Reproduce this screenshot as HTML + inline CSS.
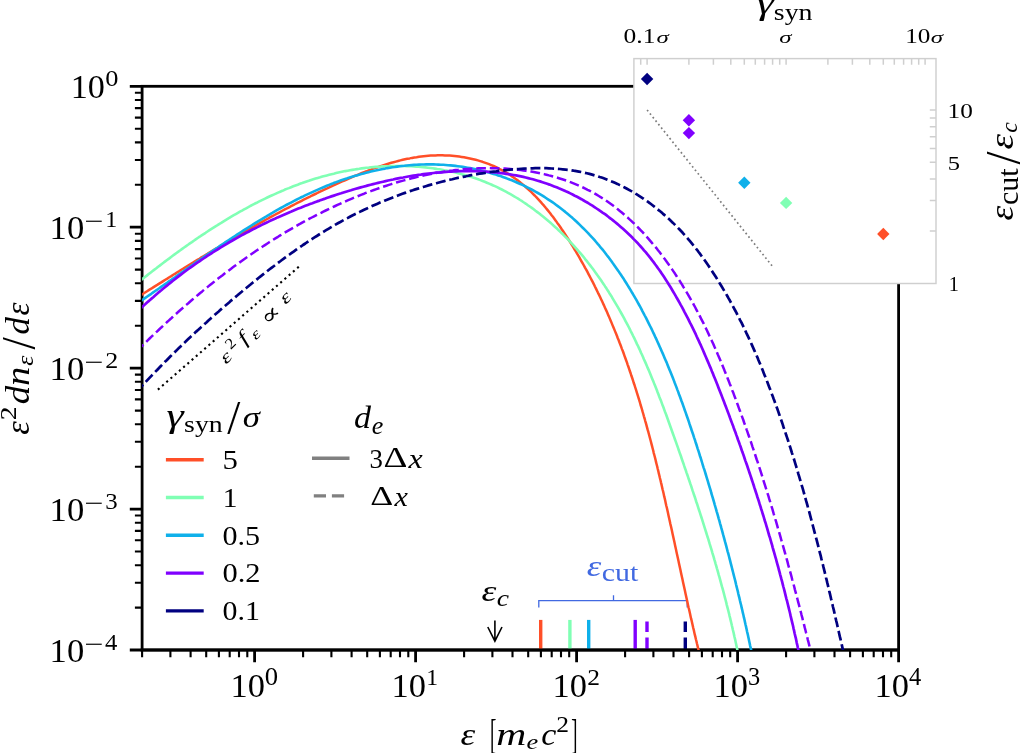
<!DOCTYPE html>
<html lang="en"><head><meta charset="utf-8"><title>Spectrum plot</title>
<style>html,body{margin:0;padding:0;background:#fff}svg{display:block}</style></head>
<body>
<svg width="1020" height="753" viewBox="0 0 1020 753" font-family="'Liberation Serif', 'DejaVu Serif', serif">
<rect width="1020" height="753" fill="#fff"/>
<defs><clipPath id="ax"><rect x="142.1" y="86.3" width="756.5" height="563.7"/></clipPath></defs>
<g stroke="#000" fill="none">
<rect x="142.1" y="86.3" width="756.5" height="563.7" stroke-width="2.8"/>
<path stroke-width="2.8" d="M254.6,650.0v12.3 M415.6,650.0v12.3 M576.6,650.0v12.3 M737.6,650.0v12.3 M898.6,650.0v12.3"/>
<path stroke-width="2.1" d="M142.1,650.0v7.2 M170.4,650.0v7.2 M190.6,650.0v7.2 M206.2,650.0v7.2 M218.9,650.0v7.2 M229.7,650.0v7.2 M239.0,650.0v7.2 M247.3,650.0v7.2 M303.1,650.0v7.2 M331.4,650.0v7.2 M351.6,650.0v7.2 M367.2,650.0v7.2 M379.9,650.0v7.2 M390.7,650.0v7.2 M400.0,650.0v7.2 M408.3,650.0v7.2 M464.1,650.0v7.2 M492.4,650.0v7.2 M512.5,650.0v7.2 M528.2,650.0v7.2 M540.9,650.0v7.2 M551.7,650.0v7.2 M561.0,650.0v7.2 M569.2,650.0v7.2 M625.1,650.0v7.2 M653.4,650.0v7.2 M673.5,650.0v7.2 M689.1,650.0v7.2 M701.9,650.0v7.2 M712.7,650.0v7.2 M722.0,650.0v7.2 M730.2,650.0v7.2 M786.1,650.0v7.2 M814.4,650.0v7.2 M834.5,650.0v7.2 M850.1,650.0v7.2 M862.9,650.0v7.2 M873.7,650.0v7.2 M883.0,650.0v7.2 M891.2,650.0v7.2"/>
<path stroke-width="2.8" d="M142.1,650.0h-12.3 M142.1,509.1h-12.3 M142.1,368.2h-12.3 M142.1,227.2h-12.3 M142.1,86.3h-12.3"/>
<path stroke-width="2.1" d="M142.1,607.6h-7.2 M142.1,582.8h-7.2 M142.1,565.2h-7.2 M142.1,551.5h-7.2 M142.1,540.3h-7.2 M142.1,530.9h-7.2 M142.1,522.7h-7.2 M142.1,515.5h-7.2 M142.1,466.7h-7.2 M142.1,441.8h-7.2 M142.1,424.2h-7.2 M142.1,410.6h-7.2 M142.1,399.4h-7.2 M142.1,390.0h-7.2 M142.1,381.8h-7.2 M142.1,374.6h-7.2 M142.1,325.7h-7.2 M142.1,300.9h-7.2 M142.1,283.3h-7.2 M142.1,269.6h-7.2 M142.1,258.5h-7.2 M142.1,249.1h-7.2 M142.1,240.9h-7.2 M142.1,233.7h-7.2 M142.1,184.8h-7.2 M142.1,160.0h-7.2 M142.1,142.4h-7.2 M142.1,128.7h-7.2 M142.1,117.6h-7.2 M142.1,108.1h-7.2 M142.1,100.0h-7.2 M142.1,92.7h-7.2"/>
</g>
<rect x="633.9" y="58.6" width="302.1" height="224.9" fill="#fff" stroke="none"/>
<g stroke="#cfcfcf" fill="none">
<rect x="633.9" y="58.6" width="302.1" height="224.9" stroke-width="1.45"/>
<path stroke-width="1.5" d="M640.7,58.6v6.2 M647.1,58.6v6.2 M688.9,58.6v6.2 M713.4,58.6v6.2 M730.8,58.6v6.2 M744.3,58.6v6.2 M755.3,58.6v6.2 M764.6,58.6v6.2 M772.6,58.6v6.2 M779.7,58.6v6.2 M786.1,58.6v6.2 M827.9,58.6v6.2 M852.4,58.6v6.2 M869.8,58.6v6.2 M883.3,58.6v6.2 M894.3,58.6v6.2 M903.6,58.6v6.2 M911.6,58.6v6.2 M918.7,58.6v6.2 M925.1,58.6v6.2"/>
<path stroke-width="1.5" d="M936.0,231.1h-6.2 M936.0,200.6h-6.2 M936.0,179.0h-6.2 M936.0,162.2h-6.2 M936.0,148.4h-6.2 M936.0,136.8h-6.2 M936.0,126.8h-6.2 M936.0,117.9h-6.2 M936.0,110.0h-6.2"/>
</g>
<path d="M540.7,650 V619.9" stroke="#ff4f28" stroke-width="3.4" fill="none"/>
<path d="M569.9,650 V619.9" stroke="#80ffb4" stroke-width="3.4" fill="none"/>
<path d="M588.7,650 V619.9" stroke="#0fb0ea" stroke-width="3.4" fill="none"/>
<path d="M635.2,650 V619.9" stroke="#8000ff" stroke-width="3.4" fill="none"/>
<path d="M647.0,650 V621.6" stroke="#8000ff" stroke-width="3.4" stroke-dasharray="12.6,5.4" fill="none"/>
<path d="M685.3,650 V621.6" stroke="#000080" stroke-width="3.4" stroke-dasharray="12.6,5.4" fill="none"/>
<path d="M140.7,650.0 H900.0" stroke="#000" stroke-width="2.8"/>
<path d="M538.8,607.6 V600.7 H687.2 V607.6 M613.5,600.7 V595.2" stroke="#4169e1" stroke-width="1.3" fill="none"/>
<g clip-path="url(#ax)" fill="none" stroke-linejoin="round">
<path d="M135.0,298.8 L137.0,297.6 L139.0,296.3 L141.1,295.0 L143.1,293.8 L145.1,292.5 L147.1,291.2 L149.1,289.9 L151.2,288.7 L153.2,287.4 L155.2,286.1 L157.2,284.9 L159.2,283.6 L161.2,282.4 L163.2,281.1 L165.3,279.8 L167.3,278.6 L169.3,277.3 L171.3,276.1 L173.3,274.8 L175.3,273.6 L177.3,272.3 L179.3,271.1 L181.3,269.8 L183.3,268.6 L185.3,267.3 L187.3,266.1 L189.4,264.8 L191.4,263.6 L193.4,262.4 L195.4,261.1 L197.4,259.9 L199.4,258.7 L201.4,257.4 L203.4,256.2 L205.4,255.0 L207.4,253.8 L209.4,252.5 L211.5,251.3 L213.5,250.1 L215.5,248.9 L217.5,247.7 L219.5,246.5 L221.5,245.3 L223.5,244.1 L225.6,242.9 L227.6,241.7 L229.6,240.5 L231.6,239.3 L233.6,238.1 L235.7,236.9 L237.7,235.7 L239.7,234.5 L241.7,233.4 L243.8,232.2 L245.8,231.0 L247.8,229.9 L249.9,228.7 L251.9,227.5 L254.0,226.4 L256.0,225.2 L258.0,224.1 L260.1,222.9 L262.1,221.8 L264.2,220.6 L266.2,219.5 L268.3,218.4 L270.4,217.2 L272.4,216.1 L274.5,215.0 L276.5,213.9 L278.6,212.8 L280.7,211.7 L282.8,210.5 L284.8,209.4 L286.9,208.4 L289.0,207.3 L291.1,206.2 L293.2,205.1 L295.3,204.0 L297.4,202.9 L299.5,201.9 L301.6,200.8 L303.7,199.7 L305.8,198.7 L307.9,197.6 L310.0,196.6 L312.1,195.5 L314.2,194.5 L316.4,193.5 L318.5,192.4 L320.6,191.4 L322.8,190.4 L324.9,189.4 L327.1,188.4 L329.2,187.3 L331.4,186.3 L333.5,185.4 L335.7,184.4 L337.9,183.4 L340.0,182.4 L342.2,181.4 L344.4,180.5 L346.6,179.5 L348.8,178.5 L351.0,177.6 L353.2,176.7 L355.4,175.7 L357.6,174.8 L359.8,173.9 L362.0,173.0 L364.2,172.1 L366.5,171.3 L368.7,170.4 L370.9,169.6 L373.2,168.7 L375.4,167.9 L377.7,167.2 L379.9,166.4 L382.2,165.6 L384.5,164.9 L386.7,164.2 L389.0,163.5 L391.3,162.8 L393.6,162.2 L395.8,161.6 L398.1,161.0 L400.4,160.4 L402.7,159.8 L405.0,159.3 L407.3,158.8 L409.7,158.4 L412.0,157.9 L414.3,157.5 L416.6,157.2 L419.0,156.8 L421.3,156.5 L423.6,156.2 L426.0,156.0 L428.3,155.8 L430.7,155.6 L433.1,155.5 L435.4,155.4 L437.8,155.3 L440.2,155.3 L442.5,155.3 L444.9,155.4 L447.3,155.5 L449.7,155.6 L452.1,155.8 L454.5,156.0 L456.9,156.3 L459.2,156.6 L461.6,156.9 L464.0,157.3 L466.3,157.7 L468.7,158.2 L471.0,158.7 L473.3,159.2 L475.7,159.8 L477.9,160.4 L480.2,161.1 L482.5,161.8 L484.7,162.6 L486.9,163.4 L489.1,164.2 L491.3,165.1 L493.5,166.0 L495.6,167.0 L497.7,168.0 L499.7,169.0 L501.8,170.1 L503.8,171.3 L505.8,172.4 L507.8,173.6 L509.7,174.8 L511.7,176.1 L513.6,177.4 L515.4,178.8 L517.3,180.1 L519.1,181.5 L520.9,183.0 L522.7,184.4 L524.5,185.9 L526.2,187.5 L528.0,189.0 L529.7,190.6 L531.4,192.2 L533.0,193.8 L534.7,195.5 L536.3,197.2 L537.9,198.9 L539.5,200.6 L541.1,202.4 L542.6,204.2 L544.2,205.9 L545.7,207.8 L547.2,209.6 L548.7,211.4 L550.2,213.3 L551.6,215.2 L553.1,217.1 L554.5,219.0 L555.9,220.9 L557.3,222.9 L558.7,224.8 L560.1,226.8 L561.4,228.8 L562.8,230.8 L564.1,232.8 L565.4,234.8 L566.7,236.8 L568.0,238.8 L569.3,240.8 L570.6,242.9 L571.8,244.9 L573.1,246.9 L574.3,249.0 L575.6,251.0 L576.8,253.1 L578.0,255.1 L579.2,257.2 L580.4,259.3 L581.5,261.3 L582.7,263.4 L583.9,265.5 L585.0,267.6 L586.2,269.6 L587.3,271.7 L588.4,273.8 L589.5,275.9 L590.6,278.0 L591.7,280.1 L592.8,282.2 L593.9,284.3 L594.9,286.5 L596.0,288.6 L597.0,290.7 L598.0,292.8 L599.1,294.9 L600.1,297.1 L601.1,299.2 L602.1,301.3 L603.1,303.5 L604.1,305.6 L605.0,307.8 L606.0,309.9 L607.0,312.1 L607.9,314.2 L608.9,316.4 L609.8,318.6 L610.7,320.7 L611.6,322.9 L612.5,325.1 L613.4,327.2 L614.3,329.4 L615.2,331.6 L616.1,333.8 L617.0,336.0 L617.8,338.2 L618.7,340.3 L619.5,342.5 L620.4,344.7 L621.2,346.9 L622.0,349.1 L622.9,351.3 L623.7,353.5 L624.5,355.8 L625.3,358.0 L626.1,360.2 L626.9,362.4 L627.6,364.6 L628.4,366.8 L629.2,369.1 L629.9,371.3 L630.7,373.5 L631.4,375.8 L632.2,378.0 L632.9,380.2 L633.6,382.5 L634.4,384.7 L635.1,387.0 L635.8,389.2 L636.5,391.4 L637.2,393.7 L637.9,395.9 L638.6,398.2 L639.3,400.4 L640.0,402.7 L640.6,405.0 L641.3,407.2 L642.0,409.5 L642.6,411.7 L643.3,414.0 L643.9,416.3 L644.6,418.5 L645.2,420.8 L645.9,423.1 L646.5,425.4 L647.1,427.6 L647.7,429.9 L648.4,432.2 L649.0,434.5 L649.6,436.8 L650.2,439.0 L650.8,441.3 L651.4,443.6 L652.0,445.9 L652.6,448.2 L653.2,450.5 L653.7,452.8 L654.3,455.0 L654.9,457.3 L655.5,459.6 L656.0,461.9 L656.6,464.2 L657.2,466.5 L657.7,468.8 L658.3,471.1 L658.8,473.4 L659.4,475.7 L659.9,478.0 L660.5,480.3 L661.0,482.6 L661.6,484.9 L662.1,487.2 L662.6,489.5 L663.2,491.8 L663.7,494.1 L664.2,496.4 L664.8,498.7 L665.3,501.1 L665.8,503.4 L666.3,505.7 L666.9,508.0 L667.4,510.3 L667.9,512.6 L668.4,514.9 L668.9,517.2 L669.4,519.5 L669.9,521.8 L670.4,524.1 L671.0,526.5 L671.5,528.8 L672.0,531.1 L672.5,533.4 L673.0,535.7 L673.5,538.0 L674.0,540.3 L674.5,542.6 L675.0,544.9 L675.5,547.3 L676.0,549.6 L676.5,551.9 L677.0,554.2 L677.5,556.5 L678.0,558.8 L678.5,561.1 L679.0,563.4 L679.5,565.7 L680.0,568.0 L680.5,570.3 L681.0,572.7 L681.5,575.0 L682.0,577.3 L682.5,579.6 L683.0,581.9 L683.5,584.2 L684.0,586.5 L684.5,588.8 L685.0,591.1 L685.5,593.4 L686.0,595.7 L686.5,598.0 L687.0,600.3 L687.5,602.6 L688.0,604.9 L688.5,607.2 L689.1,609.5 L689.6,611.8 L690.1,614.1 L690.6,616.4 L691.1,618.7 L691.7,620.9 L692.2,623.2 L692.7,625.5 L693.2,627.8 L693.8,630.1 L694.3,632.4 L694.8,634.7 L695.4,636.9 L695.9,639.2 L696.5,641.5 L697.0,643.8 L697.6,646.1 L698.1,648.3 L698.7,650.6 L699.2,652.9 L699.8,655.1 L700.3,657.4" stroke="#ff4f28" stroke-width="2.5"/>
<path d="M136.1,284.1 L137.8,282.7 L139.6,281.3 L141.4,279.8 L143.2,278.4 L145.0,277.0 L146.8,275.6 L148.7,274.1 L150.5,272.7 L152.3,271.3 L154.1,269.9 L156.0,268.5 L157.8,267.0 L159.7,265.6 L161.5,264.2 L163.4,262.8 L165.2,261.4 L167.1,260.0 L169.0,258.6 L170.8,257.2 L172.7,255.8 L174.6,254.4 L176.5,253.0 L178.4,251.6 L180.3,250.3 L182.2,248.9 L184.1,247.5 L186.1,246.1 L188.0,244.8 L189.9,243.4 L191.9,242.1 L193.8,240.7 L195.7,239.4 L197.7,238.0 L199.7,236.7 L201.6,235.4 L203.6,234.1 L205.6,232.8 L207.5,231.5 L209.5,230.2 L211.5,228.9 L213.5,227.6 L215.5,226.3 L217.5,225.1 L219.5,223.8 L221.6,222.6 L223.6,221.3 L225.6,220.1 L227.6,218.9 L229.7,217.6 L231.7,216.4 L233.8,215.2 L235.8,214.1 L237.9,212.9 L239.9,211.7 L242.0,210.6 L244.1,209.4 L246.2,208.3 L248.3,207.2 L250.3,206.0 L252.4,204.9 L254.5,203.8 L256.7,202.8 L258.8,201.7 L260.9,200.6 L263.0,199.6 L265.1,198.6 L267.3,197.5 L269.4,196.5 L271.6,195.5 L273.7,194.6 L275.9,193.6 L278.0,192.6 L280.2,191.7 L282.4,190.8 L284.5,189.8 L286.7,188.9 L288.9,188.1 L291.1,187.2 L293.3,186.3 L295.5,185.5 L297.7,184.7 L299.9,183.8 L302.1,183.1 L304.4,182.3 L306.6,181.5 L308.8,180.8 L311.1,180.0 L313.3,179.3 L315.6,178.6 L317.8,177.9 L320.1,177.3 L322.4,176.6 L324.6,176.0 L326.9,175.4 L329.2,174.8 L331.5,174.2 L333.8,173.7 L336.1,173.1 L338.4,172.6 L340.7,172.1 L343.0,171.6 L345.3,171.1 L347.7,170.7 L350.0,170.3 L352.3,169.9 L354.7,169.5 L357.0,169.1 L359.3,168.8 L361.7,168.4 L364.1,168.1 L366.4,167.8 L368.8,167.6 L371.1,167.3 L373.5,167.1 L375.9,166.9 L378.2,166.7 L380.6,166.6 L383.0,166.4 L385.3,166.3 L387.7,166.2 L390.1,166.1 L392.5,166.0 L394.8,166.0 L397.2,166.0 L399.6,166.0 L402.0,166.0 L404.3,166.0 L406.7,166.1 L409.1,166.2 L411.4,166.3 L413.8,166.4 L416.2,166.6 L418.5,166.8 L420.9,167.0 L423.2,167.2 L425.6,167.4 L427.9,167.7 L430.3,168.0 L432.6,168.3 L434.9,168.6 L437.3,169.0 L439.6,169.3 L441.9,169.7 L444.2,170.2 L446.5,170.6 L448.9,171.1 L451.2,171.6 L453.4,172.1 L455.7,172.6 L458.0,173.2 L460.3,173.8 L462.5,174.4 L464.8,175.0 L467.1,175.7 L469.3,176.4 L471.5,177.1 L473.7,177.8 L476.0,178.5 L478.2,179.3 L480.4,180.1 L482.6,181.0 L484.7,181.8 L486.9,182.7 L489.1,183.6 L491.2,184.5 L493.3,185.5 L495.5,186.4 L497.6,187.4 L499.7,188.5 L501.8,189.5 L503.9,190.6 L505.9,191.7 L508.0,192.8 L510.0,193.9 L512.1,195.1 L514.1,196.3 L516.1,197.5 L518.1,198.7 L520.1,200.0 L522.1,201.2 L524.0,202.5 L526.0,203.8 L527.9,205.2 L529.8,206.5 L531.8,207.9 L533.7,209.3 L535.5,210.7 L537.4,212.1 L539.3,213.5 L541.1,215.0 L543.0,216.5 L544.8,218.0 L546.6,219.5 L548.4,221.0 L550.2,222.5 L552.0,224.1 L553.7,225.7 L555.4,227.2 L557.2,228.8 L558.9,230.5 L560.6,232.1 L562.3,233.7 L563.9,235.4 L565.6,237.1 L567.2,238.7 L568.9,240.4 L570.5,242.2 L572.1,243.9 L573.7,245.6 L575.2,247.3 L576.8,249.1 L578.3,250.9 L579.9,252.6 L581.4,254.4 L582.9,256.2 L584.4,258.0 L585.8,259.9 L587.3,261.7 L588.7,263.5 L590.2,265.4 L591.6,267.2 L593.0,269.1 L594.4,271.0 L595.8,272.9 L597.1,274.8 L598.5,276.7 L599.8,278.6 L601.2,280.5 L602.5,282.5 L603.8,284.4 L605.1,286.4 L606.4,288.3 L607.6,290.3 L608.9,292.3 L610.1,294.3 L611.4,296.2 L612.6,298.3 L613.8,300.3 L615.0,302.3 L616.2,304.3 L617.4,306.3 L618.6,308.4 L619.7,310.4 L620.9,312.5 L622.0,314.5 L623.2,316.6 L624.3,318.7 L625.4,320.8 L626.5,322.9 L627.6,324.9 L628.7,327.0 L629.8,329.2 L630.8,331.3 L631.9,333.4 L632.9,335.5 L634.0,337.6 L635.0,339.8 L636.0,341.9 L637.0,344.1 L638.1,346.2 L639.1,348.4 L640.1,350.5 L641.0,352.7 L642.0,354.8 L643.0,357.0 L643.9,359.2 L644.9,361.4 L645.9,363.6 L646.8,365.7 L647.7,367.9 L648.7,370.1 L649.6,372.3 L650.5,374.5 L651.4,376.7 L652.3,378.9 L653.2,381.1 L654.1,383.4 L655.0,385.6 L655.9,387.8 L656.8,390.0 L657.6,392.2 L658.5,394.5 L659.3,396.7 L660.2,398.9 L661.1,401.1 L661.9,403.4 L662.7,405.6 L663.6,407.8 L664.4,410.1 L665.2,412.3 L666.1,414.5 L666.9,416.8 L667.7,419.0 L668.5,421.3 L669.3,423.5 L670.1,425.7 L670.9,428.0 L671.7,430.2 L672.5,432.5 L673.3,434.7 L674.1,436.9 L674.9,439.2 L675.7,441.4 L676.5,443.6 L677.3,445.9 L678.1,448.1 L678.8,450.3 L679.6,452.6 L680.4,454.8 L681.2,457.0 L681.9,459.3 L682.7,461.5 L683.5,463.7 L684.2,465.9 L685.0,468.2 L685.8,470.4 L686.5,472.6 L687.3,474.8 L688.1,477.1 L688.8,479.3 L689.6,481.5 L690.3,483.7 L691.1,485.9 L691.8,488.2 L692.5,490.4 L693.3,492.6 L694.0,494.8 L694.8,497.0 L695.5,499.2 L696.2,501.5 L697.0,503.7 L697.7,505.9 L698.4,508.1 L699.1,510.3 L699.9,512.6 L700.6,514.8 L701.3,517.0 L702.0,519.2 L702.7,521.4 L703.4,523.7 L704.1,525.9 L704.8,528.1 L705.5,530.3 L706.2,532.5 L706.9,534.8 L707.6,537.0 L708.3,539.2 L709.0,541.5 L709.6,543.7 L710.3,545.9 L711.0,548.2 L711.7,550.4 L712.3,552.6 L713.0,554.9 L713.7,557.1 L714.3,559.3 L715.0,561.6 L715.6,563.8 L716.3,566.1 L716.9,568.3 L717.6,570.6 L718.2,572.8 L718.8,575.1 L719.5,577.3 L720.1,579.6 L720.7,581.9 L721.3,584.1 L721.9,586.4 L722.6,588.7 L723.2,590.9 L723.8,593.2 L724.4,595.5 L725.0,597.8 L725.6,600.0 L726.2,602.3 L726.7,604.6 L727.3,606.9 L727.9,609.2 L728.5,611.5 L729.1,613.8 L729.6,616.1 L730.2,618.4 L730.7,620.7 L731.3,623.0 L731.8,625.3 L732.4,627.7 L732.9,630.0 L733.5,632.3 L734.0,634.6 L734.5,637.0 L735.1,639.3 L735.6,641.7 L736.1,644.0 L736.6,646.4 L737.1,648.7 L737.6,651.1 L738.1,653.4 L738.6,655.8 L739.1,658.2" stroke="#80ffb4" stroke-width="2.6"/>
<path d="M135.5,304.6 L137.4,303.3 L139.4,301.9 L141.4,300.6 L143.4,299.2 L145.3,297.9 L147.3,296.5 L149.3,295.1 L151.3,293.8 L153.2,292.4 L155.2,291.0 L157.2,289.7 L159.2,288.3 L161.1,286.9 L163.1,285.5 L165.1,284.1 L167.1,282.8 L169.0,281.4 L171.0,280.0 L173.0,278.6 L175.0,277.2 L176.9,275.8 L178.9,274.4 L180.9,273.0 L182.9,271.7 L184.8,270.3 L186.8,268.9 L188.8,267.5 L190.8,266.1 L192.8,264.7 L194.8,263.3 L196.8,261.9 L198.7,260.6 L200.7,259.2 L202.7,257.8 L204.7,256.4 L206.7,255.0 L208.7,253.6 L210.7,252.3 L212.7,250.9 L214.7,249.5 L216.8,248.2 L218.8,246.8 L220.8,245.4 L222.8,244.1 L224.8,242.7 L226.8,241.4 L228.9,240.0 L230.9,238.7 L232.9,237.3 L235.0,236.0 L237.0,234.7 L239.1,233.3 L241.1,232.0 L243.2,230.7 L245.2,229.4 L247.3,228.1 L249.3,226.8 L251.4,225.5 L253.5,224.2 L255.5,222.9 L257.6,221.6 L259.7,220.3 L261.8,219.1 L263.9,217.8 L266.0,216.6 L268.1,215.3 L270.2,214.1 L272.3,212.9 L274.4,211.6 L276.5,210.4 L278.7,209.2 L280.8,208.0 L282.9,206.9 L285.1,205.7 L287.2,204.5 L289.4,203.4 L291.5,202.3 L293.7,201.1 L295.9,200.0 L298.0,198.9 L300.2,197.8 L302.4,196.8 L304.6,195.7 L306.8,194.6 L309.0,193.6 L311.2,192.6 L313.4,191.6 L315.6,190.6 L317.9,189.6 L320.1,188.6 L322.3,187.7 L324.6,186.7 L326.8,185.8 L329.1,184.9 L331.3,184.0 L333.6,183.1 L335.9,182.3 L338.2,181.4 L340.5,180.6 L342.8,179.8 L345.1,179.0 L347.4,178.3 L349.7,177.5 L352.0,176.8 L354.4,176.1 L356.7,175.4 L359.0,174.7 L361.4,174.0 L363.7,173.4 L366.1,172.8 L368.5,172.2 L370.8,171.6 L373.2,171.0 L375.6,170.5 L378.0,170.0 L380.4,169.5 L382.8,169.0 L385.1,168.6 L387.5,168.1 L389.9,167.7 L392.4,167.3 L394.8,167.0 L397.2,166.6 L399.6,166.3 L402.0,166.0 L404.4,165.8 L406.8,165.5 L409.3,165.3 L411.7,165.1 L414.1,164.9 L416.5,164.8 L419.0,164.6 L421.4,164.5 L423.8,164.5 L426.3,164.4 L428.7,164.4 L431.1,164.4 L433.6,164.4 L436.0,164.5 L438.4,164.6 L440.9,164.7 L443.3,164.8 L445.7,165.0 L448.1,165.2 L450.6,165.4 L453.0,165.6 L455.4,165.9 L457.8,166.2 L460.3,166.5 L462.7,166.9 L465.1,167.3 L467.5,167.7 L469.9,168.1 L472.3,168.6 L474.7,169.1 L477.0,169.6 L479.4,170.1 L481.8,170.7 L484.2,171.3 L486.5,171.9 L488.9,172.5 L491.2,173.2 L493.5,173.9 L495.9,174.6 L498.2,175.4 L500.5,176.1 L502.8,176.9 L505.1,177.7 L507.3,178.6 L509.6,179.5 L511.9,180.3 L514.1,181.3 L516.3,182.2 L518.5,183.2 L520.8,184.2 L522.9,185.2 L525.1,186.2 L527.3,187.3 L529.4,188.4 L531.6,189.5 L533.7,190.6 L535.8,191.8 L537.9,193.0 L539.9,194.2 L542.0,195.4 L544.0,196.7 L546.0,198.0 L548.0,199.3 L550.0,200.6 L552.0,201.9 L554.0,203.3 L555.9,204.7 L557.8,206.1 L559.7,207.5 L561.6,209.0 L563.5,210.5 L565.3,211.9 L567.2,213.5 L569.0,215.0 L570.8,216.6 L572.6,218.1 L574.4,219.7 L576.1,221.3 L577.9,223.0 L579.6,224.6 L581.3,226.3 L583.0,228.0 L584.7,229.7 L586.4,231.4 L588.1,233.1 L589.7,234.9 L591.3,236.6 L593.0,238.4 L594.6,240.2 L596.1,242.0 L597.7,243.9 L599.3,245.7 L600.8,247.6 L602.4,249.4 L603.9,251.3 L605.4,253.2 L606.9,255.2 L608.4,257.1 L609.8,259.0 L611.3,261.0 L612.7,263.0 L614.1,264.9 L615.5,266.9 L616.9,268.9 L618.3,270.9 L619.7,273.0 L621.1,275.0 L622.4,277.1 L623.8,279.1 L625.1,281.2 L626.4,283.3 L627.7,285.4 L629.0,287.5 L630.3,289.6 L631.5,291.7 L632.8,293.8 L634.0,295.9 L635.3,298.1 L636.5,300.2 L637.7,302.4 L638.9,304.5 L640.1,306.7 L641.3,308.9 L642.4,311.1 L643.6,313.3 L644.7,315.5 L645.9,317.7 L647.0,319.9 L648.1,322.1 L649.2,324.3 L650.3,326.5 L651.4,328.7 L652.5,331.0 L653.5,333.2 L654.6,335.4 L655.6,337.7 L656.7,339.9 L657.7,342.2 L658.7,344.4 L659.7,346.7 L660.7,348.9 L661.7,351.2 L662.7,353.4 L663.7,355.7 L664.6,357.9 L665.6,360.2 L666.6,362.4 L667.5,364.7 L668.4,367.0 L669.3,369.2 L670.3,371.5 L671.2,373.8 L672.1,376.0 L673.0,378.3 L673.9,380.6 L674.7,382.8 L675.6,385.1 L676.5,387.4 L677.3,389.6 L678.2,391.9 L679.0,394.2 L679.9,396.5 L680.7,398.7 L681.5,401.0 L682.4,403.3 L683.2,405.6 L684.0,407.9 L684.8,410.2 L685.6,412.4 L686.4,414.7 L687.2,417.0 L688.0,419.3 L688.8,421.6 L689.5,423.9 L690.3,426.2 L691.1,428.5 L691.8,430.8 L692.6,433.0 L693.4,435.3 L694.1,437.6 L694.9,439.9 L695.6,442.2 L696.4,444.5 L697.1,446.8 L697.8,449.1 L698.6,451.4 L699.3,453.7 L700.0,456.0 L700.8,458.3 L701.5,460.6 L702.2,463.0 L702.9,465.3 L703.6,467.6 L704.4,469.9 L705.1,472.2 L705.8,474.5 L706.5,476.8 L707.2,479.1 L707.9,481.4 L708.6,483.8 L709.3,486.1 L710.0,488.4 L710.7,490.7 L711.3,493.0 L712.0,495.3 L712.7,497.7 L713.4,500.0 L714.1,502.3 L714.7,504.6 L715.4,507.0 L716.1,509.3 L716.7,511.6 L717.4,513.9 L718.1,516.3 L718.7,518.6 L719.4,520.9 L720.0,523.3 L720.7,525.6 L721.3,527.9 L722.0,530.3 L722.6,532.6 L723.2,534.9 L723.9,537.3 L724.5,539.6 L725.1,541.9 L725.8,544.3 L726.4,546.6 L727.0,549.0 L727.6,551.3 L728.3,553.7 L728.9,556.0 L729.5,558.4 L730.1,560.7 L730.7,563.1 L731.3,565.4 L731.9,567.8 L732.5,570.1 L733.1,572.5 L733.7,574.8 L734.3,577.2 L734.9,579.5 L735.5,581.9 L736.0,584.2 L736.6,586.6 L737.2,589.0 L737.8,591.3 L738.3,593.7 L738.9,596.1 L739.5,598.4 L740.0,600.8 L740.6,603.2 L741.2,605.5 L741.7,607.9 L742.3,610.3 L742.8,612.7 L743.4,615.0 L743.9,617.4 L744.5,619.8 L745.0,622.2 L745.5,624.5 L746.1,626.9 L746.6,629.3 L747.1,631.7 L747.7,634.1 L748.2,636.5 L748.7,638.8 L749.2,641.2 L749.7,643.6 L750.2,646.0 L750.8,648.4 L751.3,650.8 L751.8,653.2 L752.3,655.6 L752.8,658.0" stroke="#0fb0ea" stroke-width="2.6"/>
<path d="M135.9,313.0 L137.8,311.2 L139.7,309.4 L141.6,307.6 L143.5,305.8 L145.4,304.1 L147.3,302.3 L149.3,300.6 L151.2,298.9 L153.2,297.2 L155.1,295.5 L157.1,293.8 L159.0,292.1 L161.0,290.5 L163.0,288.8 L164.9,287.2 L166.9,285.6 L168.9,284.0 L170.9,282.4 L172.9,280.8 L174.9,279.2 L176.9,277.6 L178.9,276.1 L180.9,274.6 L183.0,273.0 L185.0,271.5 L187.0,270.0 L189.1,268.5 L191.1,267.1 L193.2,265.6 L195.2,264.2 L197.3,262.7 L199.4,261.3 L201.4,259.9 L203.5,258.5 L205.6,257.1 L207.7,255.7 L209.8,254.3 L211.9,253.0 L214.0,251.6 L216.1,250.3 L218.3,249.0 L220.4,247.7 L222.5,246.4 L224.6,245.1 L226.8,243.8 L228.9,242.5 L231.1,241.3 L233.3,240.0 L235.4,238.8 L237.6,237.6 L239.8,236.4 L241.9,235.2 L244.1,234.0 L246.3,232.8 L248.5,231.7 L250.7,230.5 L252.9,229.3 L255.2,228.2 L257.4,227.1 L259.6,226.0 L261.8,224.9 L264.1,223.8 L266.3,222.7 L268.6,221.6 L270.8,220.6 L273.1,219.5 L275.4,218.5 L277.6,217.4 L279.9,216.4 L282.2,215.4 L284.5,214.4 L286.8,213.4 L289.1,212.4 L291.4,211.5 L293.7,210.5 L296.0,209.5 L298.3,208.6 L300.7,207.7 L303.0,206.7 L305.3,205.8 L307.7,204.9 L310.0,204.0 L312.4,203.2 L314.8,202.3 L317.1,201.4 L319.5,200.6 L321.9,199.7 L324.3,198.9 L326.6,198.0 L329.0,197.2 L331.4,196.4 L333.9,195.6 L336.3,194.8 L338.7,194.0 L341.1,193.3 L343.5,192.5 L346.0,191.7 L348.4,191.0 L350.9,190.3 L353.3,189.5 L355.8,188.8 L358.2,188.1 L360.7,187.4 L363.2,186.7 L365.6,186.1 L368.1,185.4 L370.6,184.7 L373.1,184.1 L375.6,183.5 L378.1,182.9 L380.6,182.3 L383.1,181.7 L385.6,181.1 L388.1,180.5 L390.6,180.0 L393.1,179.5 L395.6,178.9 L398.1,178.4 L400.7,177.9 L403.2,177.5 L405.7,177.0 L408.2,176.5 L410.7,176.1 L413.3,175.7 L415.8,175.3 L418.3,174.9 L420.8,174.6 L423.4,174.2 L425.9,173.9 L428.4,173.6 L431.0,173.3 L433.5,173.0 L436.0,172.7 L438.6,172.5 L441.1,172.3 L443.6,172.1 L446.1,171.9 L448.7,171.7 L451.2,171.6 L453.7,171.4 L456.2,171.3 L458.8,171.2 L461.3,171.2 L463.8,171.1 L466.3,171.1 L468.8,171.1 L471.3,171.1 L473.9,171.2 L476.4,171.2 L478.9,171.3 L481.4,171.4 L483.9,171.5 L486.4,171.7 L488.9,171.9 L491.3,172.1 L493.8,172.3 L496.3,172.5 L498.8,172.8 L501.3,173.1 L503.7,173.4 L506.2,173.8 L508.6,174.2 L511.1,174.6 L513.5,175.0 L516.0,175.4 L518.4,175.9 L520.9,176.4 L523.3,176.9 L525.7,177.5 L528.1,178.1 L530.5,178.7 L532.9,179.3 L535.3,180.0 L537.7,180.7 L540.1,181.4 L542.5,182.2 L544.8,183.0 L547.2,183.8 L549.5,184.6 L551.9,185.5 L554.2,186.4 L556.6,187.3 L558.9,188.3 L561.2,189.2 L563.5,190.2 L565.8,191.3 L568.1,192.3 L570.3,193.4 L572.6,194.5 L574.8,195.7 L577.1,196.8 L579.3,198.0 L581.5,199.2 L583.7,200.5 L585.9,201.8 L588.1,203.0 L590.2,204.4 L592.4,205.7 L594.5,207.1 L596.6,208.5 L598.7,209.9 L600.8,211.3 L602.9,212.8 L605.0,214.2 L607.0,215.7 L609.0,217.3 L611.0,218.8 L613.0,220.4 L615.0,222.0 L617.0,223.6 L618.9,225.2 L620.8,226.9 L622.7,228.6 L624.6,230.3 L626.5,232.0 L628.3,233.7 L630.2,235.5 L632.0,237.3 L633.7,239.1 L635.5,240.9 L637.3,242.7 L639.0,244.6 L640.7,246.5 L642.4,248.4 L644.0,250.3 L645.7,252.2 L647.3,254.2 L648.9,256.1 L650.5,258.1 L652.0,260.1 L653.6,262.1 L655.1,264.2 L656.6,266.2 L658.0,268.3 L659.5,270.3 L661.0,272.4 L662.4,274.5 L663.8,276.6 L665.2,278.8 L666.6,280.9 L667.9,283.0 L669.3,285.2 L670.6,287.3 L671.9,289.5 L673.2,291.7 L674.5,293.9 L675.8,296.1 L677.0,298.3 L678.3,300.5 L679.5,302.7 L680.7,304.9 L682.0,307.1 L683.2,309.4 L684.3,311.6 L685.5,313.8 L686.7,316.1 L687.9,318.3 L689.0,320.6 L690.1,322.9 L691.3,325.1 L692.4,327.4 L693.5,329.7 L694.6,331.9 L695.7,334.2 L696.7,336.5 L697.8,338.8 L698.9,341.1 L699.9,343.4 L701.0,345.7 L702.0,348.0 L703.0,350.3 L704.0,352.6 L705.0,355.0 L706.0,357.3 L707.0,359.6 L708.0,361.9 L709.0,364.3 L710.0,366.6 L711.0,368.9 L711.9,371.3 L712.9,373.6 L713.8,375.9 L714.8,378.3 L715.7,380.6 L716.7,383.0 L717.6,385.3 L718.5,387.7 L719.4,390.0 L720.4,392.4 L721.3,394.7 L722.2,397.1 L723.1,399.4 L724.0,401.8 L724.9,404.2 L725.8,406.5 L726.7,408.9 L727.6,411.2 L728.5,413.6 L729.4,416.0 L730.2,418.3 L731.1,420.7 L732.0,423.1 L732.9,425.4 L733.7,427.8 L734.6,430.2 L735.5,432.5 L736.3,434.9 L737.2,437.3 L738.0,439.7 L738.9,442.0 L739.7,444.4 L740.6,446.8 L741.4,449.2 L742.2,451.6 L743.1,453.9 L743.9,456.3 L744.7,458.7 L745.5,461.1 L746.4,463.5 L747.2,465.8 L748.0,468.2 L748.8,470.6 L749.6,473.0 L750.4,475.4 L751.2,477.8 L752.0,480.2 L752.8,482.6 L753.6,485.0 L754.3,487.4 L755.1,489.8 L755.9,492.2 L756.7,494.6 L757.4,497.0 L758.2,499.4 L759.0,501.8 L759.7,504.2 L760.5,506.6 L761.2,509.0 L762.0,511.4 L762.7,513.8 L763.5,516.2 L764.2,518.6 L764.9,521.0 L765.7,523.4 L766.4,525.8 L767.1,528.2 L767.8,530.7 L768.5,533.1 L769.2,535.5 L770.0,537.9 L770.7,540.3 L771.4,542.8 L772.1,545.2 L772.7,547.6 L773.4,550.0 L774.1,552.4 L774.8,554.9 L775.5,557.3 L776.2,559.7 L776.8,562.2 L777.5,564.6 L778.2,567.0 L778.8,569.5 L779.5,571.9 L780.1,574.3 L780.8,576.8 L781.4,579.2 L782.1,581.7 L782.7,584.1 L783.3,586.5 L784.0,589.0 L784.6,591.4 L785.2,593.9 L785.8,596.3 L786.4,598.8 L787.1,601.2 L787.7,603.7 L788.3,606.1 L788.9,608.6 L789.5,611.0 L790.1,613.5 L790.6,615.9 L791.2,618.4 L791.8,620.9 L792.4,623.3 L793.0,625.8 L793.5,628.3 L794.1,630.7 L794.6,633.2 L795.2,635.7 L795.8,638.1 L796.3,640.6 L796.8,643.1 L797.4,645.5 L797.9,648.0 L798.5,650.5 L799.0,653.0 L799.5,655.5 L800.0,657.9" stroke="#8000ff" stroke-width="2.7"/>
<path d="M136.5,351.4 L138.4,349.6 L140.2,347.7 L142.1,345.9 L144.0,344.0 L145.9,342.2 L147.7,340.4 L149.6,338.5 L151.5,336.7 L153.4,334.9 L155.3,333.1 L157.2,331.3 L159.1,329.5 L161.0,327.7 L163.0,325.9 L164.9,324.1 L166.8,322.3 L168.7,320.6 L170.7,318.8 L172.6,317.0 L174.5,315.3 L176.5,313.5 L178.4,311.8 L180.4,310.0 L182.4,308.3 L184.3,306.6 L186.3,304.9 L188.3,303.2 L190.2,301.5 L192.2,299.8 L194.2,298.1 L196.2,296.4 L198.2,294.7 L200.2,293.0 L202.2,291.4 L204.2,289.7 L206.2,288.1 L208.3,286.4 L210.3,284.8 L212.3,283.2 L214.4,281.6 L216.4,280.0 L218.4,278.3 L220.5,276.8 L222.6,275.2 L224.6,273.6 L226.7,272.0 L228.8,270.4 L230.8,268.9 L232.9,267.3 L235.0,265.8 L237.1,264.3 L239.2,262.7 L241.3,261.2 L243.4,259.7 L245.5,258.2 L247.7,256.7 L249.8,255.2 L251.9,253.8 L254.1,252.3 L256.2,250.8 L258.4,249.4 L260.5,248.0 L262.7,246.5 L264.9,245.1 L267.0,243.7 L269.2,242.3 L271.4,240.9 L273.6,239.5 L275.8,238.1 L278.0,236.8 L280.2,235.4 L282.4,234.1 L284.6,232.7 L286.9,231.4 L289.1,230.1 L291.3,228.8 L293.6,227.5 L295.8,226.2 L298.1,224.9 L300.4,223.7 L302.6,222.4 L304.9,221.2 L307.2,219.9 L309.5,218.7 L311.8,217.5 L314.1,216.3 L316.4,215.1 L318.7,213.9 L321.1,212.8 L323.4,211.6 L325.7,210.5 L328.1,209.3 L330.4,208.2 L332.8,207.1 L335.2,206.0 L337.5,204.9 L339.9,203.8 L342.3,202.7 L344.7,201.7 L347.1,200.6 L349.5,199.6 L351.9,198.6 L354.3,197.6 L356.8,196.6 L359.2,195.6 L361.6,194.6 L364.1,193.7 L366.5,192.7 L369.0,191.8 L371.5,190.9 L373.9,190.0 L376.4,189.1 L378.9,188.2 L381.4,187.3 L383.9,186.5 L386.4,185.7 L388.9,184.9 L391.4,184.1 L393.9,183.3 L396.4,182.5 L398.9,181.8 L401.4,181.1 L404.0,180.4 L406.5,179.7 L409.0,179.0 L411.6,178.3 L414.1,177.7 L416.7,177.1 L419.2,176.5 L421.8,175.9 L424.4,175.3 L426.9,174.8 L429.5,174.3 L432.1,173.8 L434.6,173.3 L437.2,172.8 L439.8,172.4 L442.4,171.9 L445.0,171.5 L447.6,171.2 L450.2,170.8 L452.8,170.5 L455.4,170.1 L458.0,169.9 L460.6,169.6 L463.2,169.3 L465.8,169.1 L468.4,168.9 L471.0,168.7 L473.6,168.6 L476.2,168.4 L478.8,168.3 L481.4,168.2 L484.1,168.2 L486.7,168.2 L489.3,168.1 L491.9,168.2 L494.5,168.2 L497.2,168.3 L499.8,168.4 L502.4,168.5 L505.0,168.6 L507.7,168.8 L510.3,169.0 L512.9,169.2 L515.5,169.5 L518.1,169.8 L520.7,170.1 L523.3,170.4 L525.9,170.8 L528.5,171.2 L531.1,171.6 L533.7,172.0 L536.2,172.5 L538.8,173.0 L541.3,173.6 L543.9,174.1 L546.4,174.7 L548.9,175.4 L551.4,176.0 L554.0,176.7 L556.4,177.4 L558.9,178.2 L561.4,179.0 L563.8,179.8 L566.3,180.6 L568.7,181.5 L571.1,182.4 L573.5,183.4 L575.9,184.4 L578.3,185.4 L580.6,186.4 L583.0,187.5 L585.3,188.6 L587.6,189.8 L589.9,190.9 L592.1,192.1 L594.4,193.4 L596.6,194.7 L598.8,196.0 L601.0,197.3 L603.1,198.7 L605.3,200.1 L607.4,201.6 L609.5,203.1 L611.6,204.6 L613.7,206.1 L615.7,207.7 L617.8,209.3 L619.8,210.9 L621.8,212.5 L623.8,214.2 L625.7,215.9 L627.7,217.6 L629.6,219.4 L631.5,221.1 L633.4,222.9 L635.3,224.8 L637.1,226.6 L639.0,228.5 L640.8,230.3 L642.6,232.2 L644.4,234.2 L646.1,236.1 L647.9,238.1 L649.6,240.1 L651.3,242.1 L653.0,244.1 L654.7,246.1 L656.4,248.1 L658.0,250.2 L659.7,252.3 L661.3,254.4 L662.9,256.5 L664.4,258.6 L666.0,260.7 L667.6,262.9 L669.1,265.0 L670.6,267.2 L672.1,269.4 L673.6,271.6 L675.1,273.8 L676.5,276.0 L677.9,278.2 L679.4,280.4 L680.8,282.6 L682.2,284.8 L683.5,287.1 L684.9,289.3 L686.2,291.6 L687.6,293.8 L688.9,296.1 L690.2,298.4 L691.5,300.6 L692.8,302.9 L694.0,305.2 L695.3,307.5 L696.5,309.8 L697.7,312.1 L698.9,314.4 L700.1,316.7 L701.3,319.1 L702.5,321.4 L703.7,323.7 L704.8,326.1 L706.0,328.4 L707.1,330.8 L708.2,333.1 L709.3,335.5 L710.4,337.8 L711.5,340.2 L712.6,342.6 L713.7,344.9 L714.7,347.3 L715.8,349.7 L716.8,352.1 L717.8,354.5 L718.9,356.9 L719.9,359.3 L720.9,361.7 L721.9,364.1 L722.9,366.5 L723.9,368.9 L724.8,371.3 L725.8,373.7 L726.8,376.1 L727.7,378.5 L728.7,381.0 L729.6,383.4 L730.6,385.8 L731.5,388.3 L732.4,390.7 L733.4,393.1 L734.3,395.6 L735.2,398.0 L736.1,400.4 L737.0,402.9 L737.9,405.3 L738.8,407.8 L739.7,410.2 L740.6,412.7 L741.5,415.1 L742.4,417.6 L743.3,420.0 L744.1,422.5 L745.0,424.9 L745.9,427.4 L746.7,429.8 L747.6,432.3 L748.4,434.8 L749.3,437.2 L750.1,439.7 L751.0,442.2 L751.8,444.6 L752.6,447.1 L753.5,449.6 L754.3,452.0 L755.1,454.5 L755.9,457.0 L756.7,459.5 L757.6,461.9 L758.4,464.4 L759.2,466.9 L760.0,469.4 L760.8,471.9 L761.6,474.3 L762.4,476.8 L763.1,479.3 L763.9,481.8 L764.7,484.3 L765.5,486.8 L766.3,489.3 L767.0,491.7 L767.8,494.2 L768.6,496.7 L769.3,499.2 L770.1,501.7 L770.8,504.2 L771.6,506.7 L772.4,509.2 L773.1,511.7 L773.8,514.2 L774.6,516.7 L775.3,519.2 L776.1,521.7 L776.8,524.2 L777.5,526.7 L778.2,529.2 L779.0,531.7 L779.7,534.2 L780.4,536.7 L781.1,539.3 L781.8,541.8 L782.5,544.3 L783.3,546.8 L784.0,549.3 L784.7,551.8 L785.4,554.3 L786.1,556.8 L786.8,559.3 L787.5,561.9 L788.1,564.4 L788.8,566.9 L789.5,569.4 L790.2,571.9 L790.9,574.4 L791.6,577.0 L792.2,579.5 L792.9,582.0 L793.6,584.5 L794.3,587.0 L794.9,589.6 L795.6,592.1 L796.3,594.6 L796.9,597.1 L797.6,599.7 L798.2,602.2 L798.9,604.7 L799.6,607.2 L800.2,609.8 L800.9,612.3 L801.5,614.8 L802.2,617.3 L802.8,619.9 L803.5,622.4 L804.1,624.9 L804.7,627.4 L805.4,630.0 L806.0,632.5 L806.7,635.0 L807.3,637.5 L807.9,640.1 L808.6,642.6 L809.2,645.1 L809.8,647.7 L810.5,650.2 L811.1,652.7 L811.7,655.3 L812.3,657.8" stroke="#8000ff" stroke-width="2.5" stroke-dasharray="9.7,3.9"/>
<path d="M136.5,392.0 L138.3,390.0 L140.1,388.0 L142.0,385.9 L143.9,383.9 L145.7,381.9 L147.6,379.9 L149.5,377.9 L151.4,375.9 L153.3,373.9 L155.2,371.9 L157.1,370.0 L159.0,368.0 L160.9,366.0 L162.8,364.1 L164.7,362.1 L166.7,360.2 L168.6,358.2 L170.5,356.3 L172.5,354.4 L174.4,352.4 L176.4,350.5 L178.3,348.6 L180.3,346.7 L182.3,344.8 L184.3,342.9 L186.2,341.0 L188.2,339.1 L190.2,337.2 L192.2,335.4 L194.2,333.5 L196.2,331.6 L198.3,329.8 L200.3,327.9 L202.3,326.1 L204.3,324.2 L206.4,322.4 L208.4,320.5 L210.4,318.7 L212.5,316.9 L214.5,315.1 L216.6,313.2 L218.7,311.4 L220.7,309.6 L222.8,307.8 L224.9,306.0 L227.0,304.2 L229.1,302.4 L231.1,300.6 L233.2,298.9 L235.3,297.1 L237.5,295.3 L239.6,293.5 L241.7,291.8 L243.8,290.0 L245.9,288.3 L248.1,286.5 L250.2,284.8 L252.3,283.0 L254.5,281.3 L256.6,279.6 L258.8,277.8 L260.9,276.1 L263.1,274.4 L265.3,272.7 L267.4,271.0 L269.6,269.3 L271.8,267.6 L274.0,266.0 L276.2,264.3 L278.4,262.6 L280.6,261.0 L282.8,259.3 L285.0,257.7 L287.3,256.1 L289.5,254.5 L291.7,252.9 L294.0,251.3 L296.2,249.7 L298.5,248.1 L300.7,246.6 L303.0,245.0 L305.3,243.5 L307.6,241.9 L309.9,240.4 L312.2,238.9 L314.5,237.4 L316.8,236.0 L319.1,234.5 L321.4,233.1 L323.8,231.6 L326.1,230.2 L328.4,228.8 L330.8,227.4 L333.2,226.0 L335.5,224.6 L337.9,223.3 L340.3,222.0 L342.7,220.6 L345.1,219.3 L347.5,218.1 L349.9,216.8 L352.3,215.5 L354.8,214.3 L357.2,213.1 L359.7,211.9 L362.1,210.7 L364.6,209.5 L367.0,208.4 L369.5,207.2 L372.0,206.1 L374.5,205.0 L377.0,203.9 L379.5,202.8 L382.0,201.7 L384.5,200.7 L387.1,199.7 L389.6,198.7 L392.2,197.7 L394.7,196.7 L397.3,195.7 L399.8,194.8 L402.4,193.8 L405.0,192.9 L407.5,192.0 L410.1,191.1 L412.7,190.3 L415.3,189.4 L417.9,188.6 L420.6,187.8 L423.2,187.0 L425.8,186.2 L428.4,185.4 L431.1,184.6 L433.7,183.9 L436.4,183.2 L439.0,182.5 L441.7,181.8 L444.4,181.1 L447.0,180.4 L449.7,179.8 L452.4,179.2 L455.1,178.5 L457.8,177.9 L460.5,177.4 L463.2,176.8 L465.9,176.3 L468.7,175.7 L471.4,175.2 L474.1,174.7 L476.9,174.2 L479.6,173.7 L482.3,173.3 L485.1,172.9 L487.9,172.4 L490.6,172.0 L493.4,171.6 L496.2,171.3 L498.9,170.9 L501.7,170.6 L504.5,170.3 L507.3,170.0 L510.1,169.7 L512.9,169.4 L515.7,169.2 L518.4,169.0 L521.2,168.8 L524.0,168.6 L526.8,168.5 L529.6,168.4 L532.4,168.3 L535.2,168.2 L538.0,168.2 L540.7,168.2 L543.5,168.2 L546.3,168.2 L549.0,168.3 L551.8,168.5 L554.5,168.6 L557.3,168.8 L560.0,169.0 L562.7,169.3 L565.5,169.6 L568.2,169.9 L570.9,170.2 L573.6,170.7 L576.3,171.1 L578.9,171.6 L581.6,172.1 L584.2,172.7 L586.9,173.3 L589.5,173.9 L592.1,174.6 L594.7,175.4 L597.3,176.1 L599.8,177.0 L602.4,177.8 L604.9,178.7 L607.4,179.7 L609.9,180.7 L612.4,181.7 L614.9,182.8 L617.4,183.9 L619.8,185.1 L622.2,186.3 L624.6,187.5 L627.0,188.8 L629.4,190.1 L631.8,191.4 L634.1,192.8 L636.4,194.2 L638.7,195.6 L641.0,197.1 L643.3,198.6 L645.5,200.2 L647.8,201.7 L650.0,203.3 L652.2,205.0 L654.3,206.6 L656.5,208.3 L658.6,210.1 L660.8,211.8 L662.8,213.6 L664.9,215.4 L667.0,217.3 L669.0,219.1 L671.0,221.0 L673.0,222.9 L675.0,224.9 L676.9,226.8 L678.9,228.8 L680.8,230.8 L682.7,232.8 L684.5,234.9 L686.4,237.0 L688.2,239.1 L690.0,241.2 L691.8,243.3 L693.5,245.5 L695.2,247.6 L697.0,249.8 L698.6,252.0 L700.3,254.2 L701.9,256.5 L703.6,258.7 L705.2,261.0 L706.8,263.3 L708.3,265.5 L709.9,267.8 L711.4,270.1 L712.9,272.5 L714.4,274.8 L715.9,277.1 L717.4,279.5 L718.8,281.8 L720.3,284.2 L721.7,286.5 L723.1,288.9 L724.5,291.3 L725.9,293.6 L727.3,296.0 L728.6,298.4 L730.0,300.8 L731.3,303.2 L732.6,305.6 L733.9,308.1 L735.2,310.5 L736.5,312.9 L737.7,315.4 L739.0,317.8 L740.2,320.3 L741.5,322.7 L742.7,325.2 L743.9,327.7 L745.1,330.1 L746.2,332.6 L747.4,335.1 L748.6,337.6 L749.7,340.1 L750.9,342.6 L752.0,345.1 L753.1,347.6 L754.2,350.1 L755.3,352.6 L756.4,355.1 L757.5,357.6 L758.5,360.2 L759.6,362.7 L760.6,365.2 L761.7,367.8 L762.7,370.3 L763.7,372.9 L764.7,375.4 L765.8,378.0 L766.8,380.5 L767.7,383.1 L768.7,385.7 L769.7,388.2 L770.7,390.8 L771.6,393.4 L772.6,395.9 L773.5,398.5 L774.5,401.1 L775.4,403.7 L776.3,406.2 L777.3,408.8 L778.2,411.4 L779.1,414.0 L780.0,416.6 L780.9,419.2 L781.8,421.8 L782.7,424.4 L783.5,427.0 L784.4,429.6 L785.3,432.2 L786.1,434.8 L787.0,437.4 L787.9,440.0 L788.7,442.6 L789.5,445.2 L790.4,447.8 L791.2,450.5 L792.0,453.1 L792.9,455.7 L793.7,458.3 L794.5,460.9 L795.3,463.6 L796.1,466.2 L796.9,468.8 L797.7,471.4 L798.4,474.1 L799.2,476.7 L800.0,479.3 L800.8,482.0 L801.5,484.6 L802.3,487.2 L803.1,489.9 L803.8,492.5 L804.6,495.2 L805.3,497.8 L806.0,500.4 L806.8,503.1 L807.5,505.7 L808.2,508.4 L809.0,511.0 L809.7,513.7 L810.4,516.3 L811.1,519.0 L811.8,521.6 L812.5,524.3 L813.2,527.0 L813.9,529.6 L814.6,532.3 L815.3,534.9 L816.0,537.6 L816.7,540.2 L817.4,542.9 L818.1,545.6 L818.8,548.2 L819.4,550.9 L820.1,553.6 L820.8,556.2 L821.4,558.9 L822.1,561.6 L822.8,564.2 L823.4,566.9 L824.1,569.6 L824.7,572.2 L825.4,574.9 L826.0,577.6 L826.7,580.2 L827.3,582.9 L828.0,585.6 L828.6,588.3 L829.2,590.9 L829.9,593.6 L830.5,596.3 L831.1,598.9 L831.8,601.6 L832.4,604.3 L833.0,607.0 L833.7,609.6 L834.3,612.3 L834.9,615.0 L835.5,617.7 L836.1,620.3 L836.8,623.0 L837.4,625.7 L838.0,628.4 L838.6,631.0 L839.2,633.7 L839.8,636.4 L840.5,639.1 L841.1,641.7 L841.7,644.4 L842.3,647.1 L842.9,649.8 L843.5,652.5 L844.1,655.1 L844.7,657.8" stroke="#000080" stroke-width="2.7" stroke-dasharray="9.9,3.8"/>
<path d="M157.9,389.6 L301.4,264.5" stroke="#000" stroke-width="2.1" stroke-dasharray="2.1,3.5"/>
</g>
<path d="M494.9,620.4 V640.6 M487.8,627.0 L494.9,641.2 L502.0,627.0" stroke="#000" stroke-width="1.6" fill="none" stroke-linejoin="miter"/>
<path d="M165.9,459.7 H203.7" stroke="#ff4f28" stroke-width="3.4"/>
<path d="M165.9,497.5 H203.7" stroke="#80ffb4" stroke-width="3.4"/>
<path d="M165.9,535.3 H203.7" stroke="#0fb0ea" stroke-width="3.4"/>
<path d="M165.9,573.1 H203.7" stroke="#8000ff" stroke-width="3.4"/>
<path d="M165.9,610.9 H203.7" stroke="#000080" stroke-width="3.4"/>
<path d="M312,458.2 H349.5" stroke="#808080" stroke-width="3.4"/>
<path d="M313.8,495.9 H347.7" stroke="#808080" stroke-width="3.4" stroke-dasharray="12.2,5.9"/>
<path d="M647.1,110.0 L772.6,266.5" stroke="#7c7c7c" stroke-width="1.7" stroke-dasharray="1.7,2.8" fill="none"/>
<path d="M647.1,72.8 L653.3,79.0 L647.1,85.2 L640.9,79.0Z" fill="#000080"/>
<path d="M688.9,114.1 L695.1,120.3 L688.9,126.5 L682.7,120.3Z" fill="#8000ff"/>
<path d="M688.9,126.9 L695.1,133.1 L688.9,139.3 L682.7,133.1Z" fill="#8000ff"/>
<path d="M744.3,176.5 L750.5,182.7 L744.3,188.9 L738.1,182.7Z" fill="#0fb0ea"/>
<path d="M786.1,196.7 L792.3,202.9 L786.1,209.1 L779.9,202.9Z" fill="#80ffb4"/>
<path d="M883.3,227.8 L889.5,234.0 L883.3,240.2 L877.1,234.0Z" fill="#ff4f28"/>
<text transform="translate(70.72,98.25) scale(0.3425,0.3452)" font-size="100">10</text>
<text transform="translate(105.14,86.16) scale(0.2643,0.2385)" font-size="100">0</text>
<text transform="translate(49.59,239.08) scale(0.3460,0.3422)" font-size="100">10</text>
<text transform="translate(84.51,228.74) scale(0.3376,0.2400)" font-size="100">−</text>
<text transform="translate(105.14,226.83) scale(0.2400,0.2366)" font-size="100">1</text>
<text transform="translate(49.59,380.01) scale(0.3460,0.3422)" font-size="100">10</text>
<text transform="translate(84.51,369.67) scale(0.3376,0.2400)" font-size="100">−</text>
<text transform="translate(105.23,367.75) scale(0.2600,0.2318)" font-size="100">2</text>
<text transform="translate(49.59,520.93) scale(0.3460,0.3422)" font-size="100">10</text>
<text transform="translate(84.51,510.59) scale(0.3376,0.2400)" font-size="100">−</text>
<text transform="translate(105.26,508.84) scale(0.2488,0.2373)" font-size="100">3</text>
<text transform="translate(49.59,661.86) scale(0.3460,0.3422)" font-size="100">10</text>
<text transform="translate(84.51,651.52) scale(0.3376,0.2400)" font-size="100">−</text>
<text transform="translate(105.11,649.72) scale(0.2473,0.2385)" font-size="100">4</text>
<text transform="translate(230.43,697.16) scale(0.3448,0.3407)" font-size="100">10</text>
<text transform="translate(264.66,685.06) scale(0.2667,0.2415)" font-size="100">0</text>
<text transform="translate(391.42,697.16) scale(0.3448,0.3407)" font-size="100">10</text>
<text transform="translate(426.19,684.70) scale(0.2371,0.2366)" font-size="100">1</text>
<text transform="translate(552.41,697.16) scale(0.3448,0.3407)" font-size="100">10</text>
<text transform="translate(587.37,684.70) scale(0.2550,0.2348)" font-size="100">2</text>
<text transform="translate(713.40,697.16) scale(0.3448,0.3407)" font-size="100">10</text>
<text transform="translate(748.09,685.16) scale(0.2439,0.2448)" font-size="100">3</text>
<text transform="translate(874.40,697.16) scale(0.3448,0.3407)" font-size="100">10</text>
<text transform="translate(909.11,684.92) scale(0.2452,0.2446)" font-size="100">4</text>
<text transform="translate(460.55,744.68) scale(0.3730,0.3167)" font-size="100" font-style="italic">ε</text>
<text transform="translate(490.07,748.27) scale(0.1909,0.4170)" font-size="100">[</text>
<text transform="translate(496.25,744.76) scale(0.4155,0.3183)" font-size="100" font-style="italic">m</text>
<text transform="translate(526.41,749.00) scale(0.2641,0.2042)" font-size="100" font-style="italic">e</text>
<text transform="translate(541.28,744.59) scale(0.3407,0.3146)" font-size="100" font-style="italic">c</text>
<text transform="translate(556.35,731.50) scale(0.2550,0.2242)" font-size="100">2</text>
<text transform="translate(571.15,748.27) scale(0.1867,0.4170)" font-size="100">]</text>
<text transform="translate(166.43,426.55) scale(0.4354,0.3308)" font-size="100" font-style="italic">γ</text>
<text transform="translate(184.09,431.57) scale(0.2779,0.2206)" font-size="100">syn</text>
<text transform="translate(227.20,433.61) scale(0.4691,0.4857)" font-size="100">/</text>
<text transform="translate(242.86,427.01) scale(0.3475,0.2914)" font-size="100" font-style="italic">σ</text>
<text transform="translate(222.56,469.32) scale(0.3075,0.2782)" font-size="100">5</text>
<text transform="translate(222.65,506.70) scale(0.2943,0.2672)" font-size="100">1</text>
<text transform="translate(222.50,544.88) scale(0.3009,0.2779)" font-size="100">0.5</text>
<text transform="translate(222.48,582.39) scale(0.3048,0.2750)" font-size="100">0.2</text>
<text transform="translate(222.50,620.19) scale(0.2991,0.2721)" font-size="100">0.1</text>
<text transform="translate(354.08,428.48) scale(0.3404,0.3243)" font-size="100" font-style="italic">d</text>
<text transform="translate(371.82,434.35) scale(0.2615,0.2479)" font-size="100" font-style="italic">e</text>
<text transform="translate(369.56,467.62) scale(0.2683,0.2776)" font-size="100">3</text>
<text transform="translate(383.51,467.20) scale(0.3717,0.2855)" font-size="100">Δ</text>
<text transform="translate(408.62,467.80) scale(0.3213,0.2725)" font-size="100" font-style="italic">x</text>
<text transform="translate(370.27,505.20) scale(0.3575,0.2824)" font-size="100">Δ</text>
<text transform="translate(394.50,505.70) scale(0.3034,0.2725)" font-size="100" font-style="italic">x</text>
<text transform="translate(481.55,600.61) scale(0.3757,0.2875)" font-size="100" font-style="italic">ε</text>
<text transform="translate(496.87,605.66) scale(0.2765,0.2375)" font-size="100" font-style="italic">c</text>
<text transform="translate(586.86,575.91) scale(0.3676,0.2896)" font-size="100" font-style="italic" fill="#4169e1">ε</text>
<text transform="translate(601.80,580.95) scale(0.2996,0.2526)" font-size="100" fill="#4169e1">cut</text>
<text transform="translate(623.58,42.69) scale(0.2548,0.2044)" font-size="100">0.1</text>
<text transform="translate(656.55,42.52) scale(0.2485,0.1752)" font-size="100" font-style="italic">σ</text>
<text transform="translate(779.25,42.52) scale(0.2485,0.1752)" font-size="100" font-style="italic">σ</text>
<text transform="translate(905.23,42.70) scale(0.2517,0.2044)" font-size="100">10</text>
<text transform="translate(930.75,42.52) scale(0.2485,0.1752)" font-size="100" font-style="italic">σ</text>
<text transform="translate(756.51,14.49) scale(0.4456,0.3338)" font-size="100" font-style="italic">γ</text>
<text transform="translate(773.79,19.67) scale(0.2787,0.2250)" font-size="100">syn</text>
<text transform="translate(947.62,117.70) scale(0.2529,0.2030)" font-size="100">10</text>
<text transform="translate(947.83,169.50) scale(0.2450,0.1970)" font-size="100">5</text>
<text transform="translate(948.67,290.50) scale(0.2029,0.2015)" font-size="100">1</text>
<g transform="translate(29.2,434.4) rotate(-90)"><text transform="translate(-0.29,-0.43) scale(0.3432,0.3312)" font-size="100" font-style="italic">ε</text><text transform="translate(14.06,-13.60) scale(0.2750,0.2242)" font-size="100">2</text><text transform="translate(30.09,-0.44) scale(0.3702,0.3429)" font-size="100" font-style="italic">d</text><text transform="translate(48.35,0.06) scale(0.3859,0.3269)" font-size="100" font-style="italic">n</text><text transform="translate(68.59,3.67) scale(0.2568,0.2292)" font-size="100" font-style="italic">ε</text><text transform="translate(85.00,6.11) scale(0.4436,0.4932)" font-size="100">/</text><text transform="translate(99.96,-0.44) scale(0.3468,0.3429)" font-size="100" font-style="italic">d</text><text transform="translate(118.84,-0.43) scale(0.3297,0.3312)" font-size="100" font-style="italic">ε</text></g>
<g transform="translate(1013.1,220.1) rotate(-90)"><text transform="translate(-0.45,-0.44) scale(0.3730,0.3375)" font-size="100" font-style="italic">ε</text><text transform="translate(15.10,4.42) scale(0.3004,0.2842)" font-size="100">cut</text><text transform="translate(55.40,7.18) scale(0.4800,0.5158)" font-size="100">/</text><text transform="translate(70.51,-0.44) scale(0.3946,0.3375)" font-size="100" font-style="italic">ε</text><text transform="translate(87.38,3.68) scale(0.2395,0.2208)" font-size="100" font-style="italic">c</text></g>
<g transform="translate(227.0,358.3) rotate(-45)"><text transform="translate(-5.10,4.12) scale(0.2486,0.1792)" font-size="100" font-style="italic">ε</text><text transform="translate(8.51,-3.30) scale(0.1750,0.1515)" font-size="100">2</text><text transform="translate(21.53,3.57) scale(0.2737,0.1967)" font-size="100" font-style="italic">f</text><text transform="translate(33.09,7.95) scale(0.2054,0.1500)" font-size="100" font-style="italic">ε</text><text transform="translate(51.50,7.33) scale(0.2913,0.2211)" font-size="100" font-family="'DejaVu Serif', serif">∝</text><text transform="translate(79.30,3.92) scale(0.2486,0.1792)" font-size="100" font-style="italic">ε</text></g>
</svg>
</body></html>
